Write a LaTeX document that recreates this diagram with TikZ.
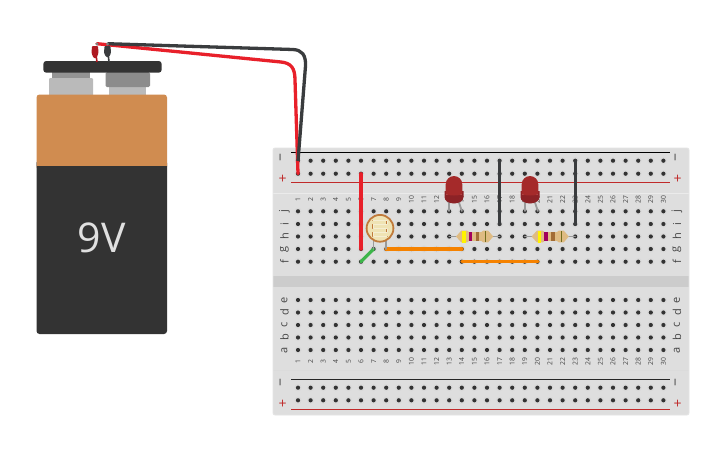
\documentclass[tikz,border=0pt]{standalone}
\usepackage{fontspec}
\setmainfont{Open Sans}
\definecolor{boardc}{HTML}{DEDEDE}
\definecolor{channelc}{HTML}{CCCCCC}
\definecolor{wirered}{HTML}{E8202A}
\definecolor{wireblack}{HTML}{3A3C3E}
\definecolor{wireorange}{HTML}{F58200}
\definecolor{wiregreen}{HTML}{3DB54A}
\definecolor{railred}{HTML}{C02A2A}
\definecolor{ledred}{HTML}{A52A2A}
\definecolor{ledrim}{HTML}{8C2226}
\definecolor{ledband}{HTML}{B04A4A}
\definecolor{leadc}{HTML}{9A9A9A}
\definecolor{battdark}{HTML}{333333}
\definecolor{battorange}{HTML}{D08C50}
\definecolor{resbody}{HTML}{DFBB82}
\definecolor{ldrbody}{HTML}{EFE3B4}
\definecolor{ldrrim}{HTML}{C07A3A}
\definecolor{labelc}{HTML}{444444}
\tikzset{
  wirestyle/.style={line width=3.2pt,line cap=round,line join=round},
  leadstyle/.style={line width=1.8pt,draw=leadc,line cap=round},
  holelabel/.style={font=\fontsize{6.8}{7}\selectfont,text=labelc,rotate=90,inner sep=0pt},
  rowlabel/.style={font=\fontsize{11}{12}\selectfont,text=labelc,rotate=90,inner sep=0pt},
  raillabel/.style={font=\fontsize{14}{15}\selectfont,inner sep=0pt},
}
\newcommand{\hole}[2]{%
  \fill[black!15] (#1,#2) circle (3.6pt);
  \fill[black!80] (#1,#2) circle (2.1pt);}
\newcommand{\resistor}[2]{% x of left lead, y
  \begin{scope}[shift={(#1,#2)}]
    \draw[leadstyle] (0,0) -- (50.4,0);
    \fill[resbody] (6.8,0) -- (12,-5.8) -- (18,-5.8) -- (20,-4.3) -- (32,-4.3) -- (34,-5.8) -- (39,-5.8) -- (44,0)
       -- (39,5.8) -- (34,5.8) -- (32,4.3) -- (20,4.3) -- (18,5.8) -- (12,5.8) -- cycle;
    \fill[yellow] (12.8,-6) rectangle (16.5,6);
    \fill[purple!85!blue] (19.5,-4.3) rectangle (22.8,4.3);
    \fill[brown!85!black] (26.6,-4.3) rectangle (29.8,4.3);
    \fill[olive!75!black] (36,-5.8) rectangle (36.8,5.8);
  \end{scope}}
\newcommand{\ledpart}[1]{% x centre
  \begin{scope}[shift={(#1,0)}]
    \draw[leadstyle] (-4.8,198) -- (-4.8,211);
    \draw[leadstyle] (3.5,198) -- (7.8,211);
    \fill[ledrim] (-9.5,191) -- (9.5,191) -- (9.5,197)
       arc[start angle=0,end angle=180,x radius=9.5,y radius=6.5] -- cycle;
    \fill[ledband] (-8.3,192) rectangle (8.3,195);
    \fill[ledred] (-8.3,193) -- (-8.3,184.3)
       arc[start angle=180,end angle=360,radius=8.3] -- (8.3,193)
       arc[start angle=0,end angle=180,x radius=8.3,y radius=2.5] -- cycle;
  \end{scope}}
\begin{document}
\begin{tikzpicture}[x=1pt,y=-1pt]
\useasboundingbox (0,0) rectangle (725,453);
\fill[white] (0,0) rectangle (725,453);
% --- battery
\fill[black!42] (52,72) rectangle (90,79);
\fill[black!27,rounded corners=1pt] (49,78) rectangle (93,96);
\fill[black!27] (109,86) rectangle (146,96);
\fill[black!45,rounded corners=1.5pt] (105.5,72) rectangle (150,87);
\fill[battdark,rounded corners=3pt] (43.3,61) rectangle (161.7,72.7);
\fill[battorange,rounded corners=3pt] (36.5,94.5) rectangle (167,170);
\fill[battdark,rounded corners=3pt] (36.5,160) rectangle (167,334);
\fill[battorange] (36.5,150) rectangle (167,165.5);
\node[text=black!12,font=\fontsize{41}{42}\selectfont,inner sep=0pt] (volt) at (101.5,238) {9V};
% --- board
\fill[boardc,rounded corners=2pt] (273,148) rectangle (689,415);
\fill[channelc] (273,276) rectangle (689,287);
\draw[black!8,line width=0.8pt] (273,193) -- (689,193);
\draw[black!14,line width=0.8pt] (273,370) -- (689,370);
\draw[black!10,line width=0.8pt,rounded corners=2pt] (273,148) rectangle (689,415);
% rail lines
\draw[black,line width=1pt] (291,152.5) -- (670,152.5);
\draw[railred,line width=1pt] (291,182.5) -- (670,182.5);
\draw[black!85,line width=1pt] (291,379) -- (670,379);
\draw[railred,line width=1pt] (291,409.5) -- (670,409.5);
% holes
\foreach \c in {0,...,29}{
  \pgfmathsetmacro{\xx}{298+12.6*\c}
  \foreach \yy in {160.7,173.7,211.3,224,236.5,249,261.7,300,312.5,325,337.5,350,387.7,400.3}{\hole{\xx}{\yy}}
}
% numbers
\foreach \c in {1,...,30}{
  \pgfmathsetmacro{\xx}{298+12.6*(\c-1)}
  \node[holelabel] (top\c) at (\xx,199.5) {\c};
  \node[holelabel] (bot\c) at (\xx,361.5) {\c};
}
% row letters
\foreach \l/\yy in {j/211.3,i/224,h/236.5,g/249,f/261.7,e/300,d/312.5,c/325,b/337.5,a/350}{
  \node[rowlabel] (L\l) at (284.5,\yy) {\l};
  \node[rowlabel] (R\l) at (677,\yy) {\l};
}
% rail signs
\node[raillabel,text=labelc,rotate=90] (m1) at (282.5,157) {−};
\node[raillabel,text=labelc,rotate=90] (m2) at (677.5,157) {−};
\node[raillabel,text=labelc,rotate=90] (m3) at (282.5,382.5) {−};
\node[raillabel,text=labelc,rotate=90] (m4) at (677.5,382.5) {−};
\node[raillabel,text=railred] (p1) at (282.5,179) {+};
\node[raillabel,text=railred] (p2) at (677.5,179) {+};
\node[raillabel,text=railred] (p3) at (282.5,404.5) {+};
\node[raillabel,text=railred] (p4) at (677.5,404.5) {+};
% --- jumpers on board
\draw[wirestyle,wireorange] (386,249) -- (462,249);
\draw[wirestyle,wireorange] (462,261.7) -- (538,261.7);
\draw[wirestyle,wiregreen] (361,261.7) -- (373.5,249);
\draw[wirestyle,wirered] (361,173.7) -- (361,249);
\draw[wirestyle,wireblack] (499.6,160.7) -- (499.6,224);
\draw[wirestyle,wireblack] (575.2,160.7) -- (575.2,224);
% --- LDR
\draw[leadstyle] (373.5,249) -- (373.5,238);
\draw[leadstyle] (386,249) -- (386,238);
\filldraw[fill=ldrbody,draw=ldrrim,line width=1.8pt] (380,228.3) circle (13.4pt);
\draw[ldrrim,line width=1.7pt,line join=round,line cap=round] (373,220.5) -- (387,220.5) -- (387,224.5) -- (373,224.5) -- (373,228.5) -- (387,228.5) -- (387,232.5) -- (373,232.5) -- (373,236.5) -- (387,236.5);
\draw[ldrbody!60!white,line width=0.5pt,line join=round] (373,220.5) -- (387,220.5) -- (387,224.5) -- (373,224.5) -- (373,228.5) -- (387,228.5) -- (387,232.5) -- (373,232.5) -- (373,236.5) -- (387,236.5);
% --- resistors
\resistor{449.2}{236.5}
\resistor{524.8}{236.5}
% --- LEDs
\ledpart{454}
\ledpart{530}
% --- battery leads
\draw[line width=1.6pt,wirered!75!black] (95,48) -- (97,62);
\draw[line width=1.6pt,wireblack] (107.5,48) -- (109,62);
\draw[line width=3.3pt,wirered,line join=round,line cap=round] (97,43.7) -- (281,62) .. controls (291,63) and (295,68) .. (295,80) -- (298,173.7);
\draw[line width=3.3pt,wireblack,line join=round] (107.5,43.7) -- (293,49.5) .. controls (302,50) and (306,55) .. (305.5,66) -- (298,161);
\fill[black!50] (97,44) circle (1.7pt);
\fill[black!50] (107.5,44) circle (1.7pt);
\fill[wirered!75!black,rounded corners=1pt] (92,46) -- (98,46) -- (98.5,53) -- (96.5,58) -- (93.5,58) -- (91.5,53) -- cycle;
\fill[wireblack,rounded corners=1pt] (104.5,46) -- (110.5,46) -- (111,53) -- (109,57) -- (106,57) -- (104,53) -- cycle;
\end{tikzpicture}
\end{document}
